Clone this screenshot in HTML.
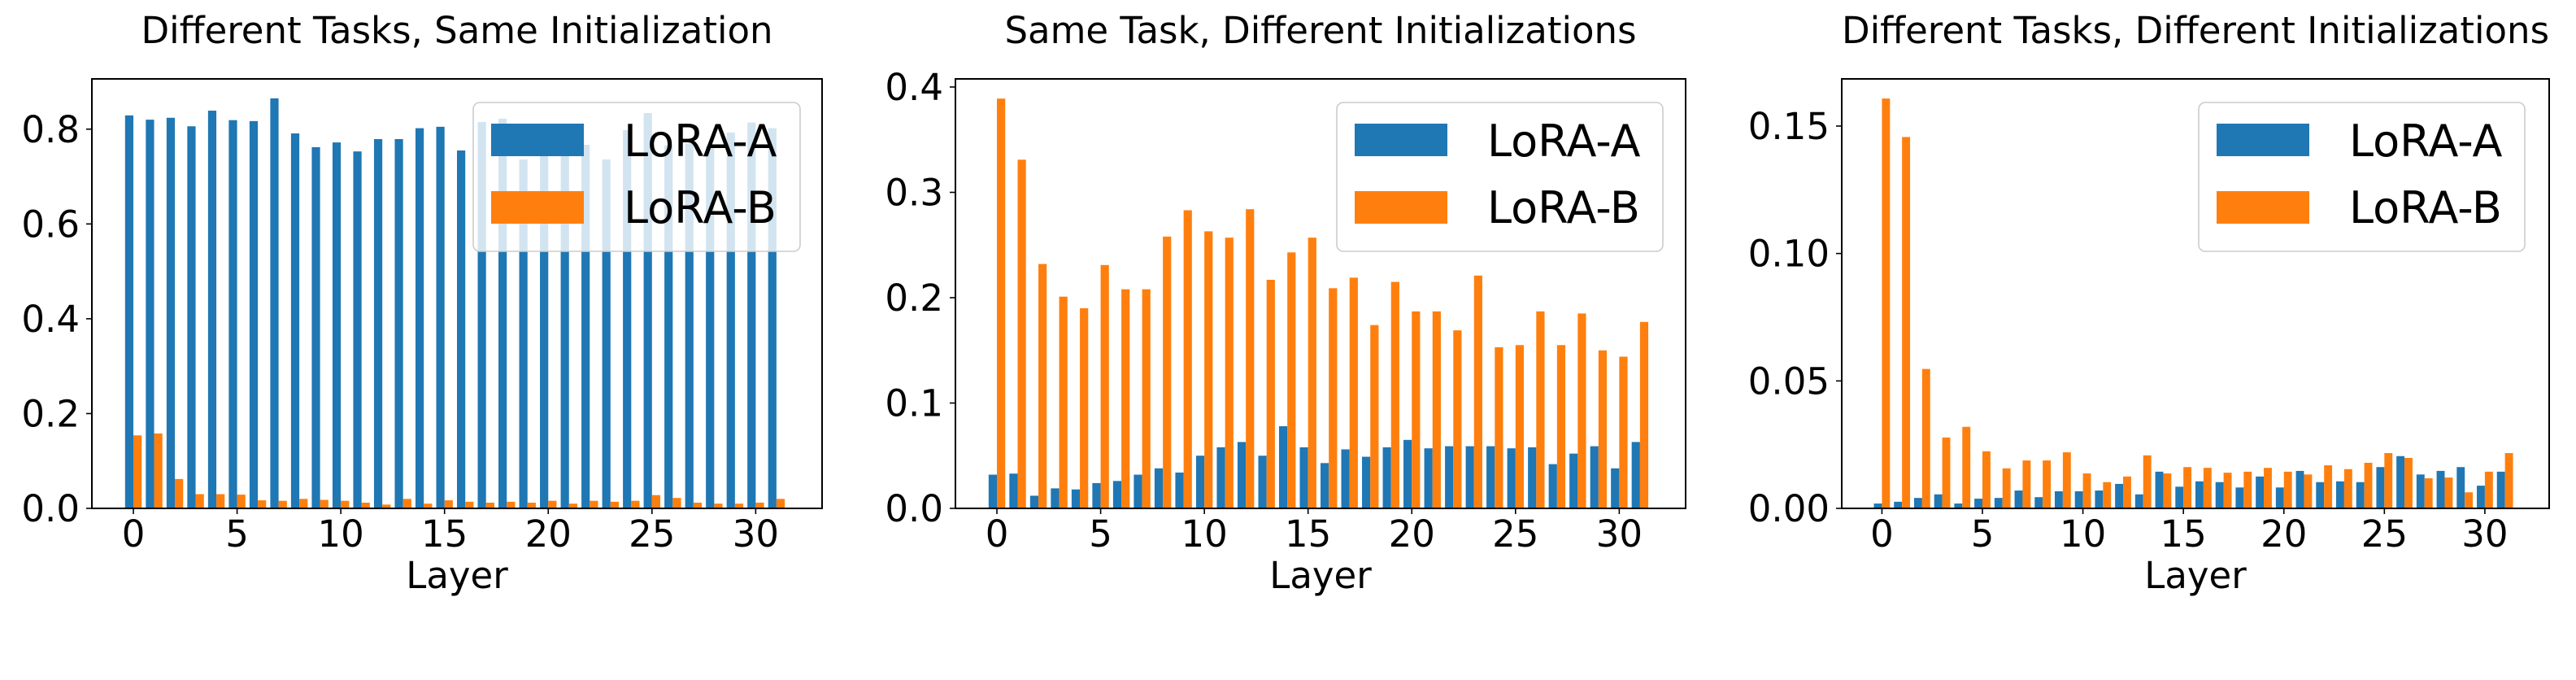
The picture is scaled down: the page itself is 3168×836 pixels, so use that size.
<!DOCTYPE html>
<html><head><meta charset="utf-8"><style>
html,body{margin:0;padding:0;background:#fff;width:3168px;height:836px;overflow:hidden}
svg{display:block}
text{font-family:"DejaVu Sans","Liberation Sans",sans-serif;fill:#000}
</style></head><body>
<svg id="s" width="3168" height="836" viewBox="0 0 3168 836" xmlns="http://www.w3.org/2000/svg"></svg>
<script>
const panels=[
{L:113,R:1011,ymax:0.906,title:"Different Tasks, Same Initialization",ticks:[0,0.2,0.4,0.6,0.8],fmt:v=>v.toFixed(1),
A:[0.829,0.820,0.824,0.806,0.839,0.819,0.817,0.865,0.791,0.762,0.772,0.753,0.779,0.779,0.802,0.805,0.755,0.815,0.822,0.736,0.78,0.79,0.767,0.736,0.798,0.834,0.766,0.77,0.765,0.793,0.814,0.802],
B:[0.154,0.158,0.062,0.030,0.030,0.029,0.017,0.016,0.020,0.018,0.016,0.012,0.008,0.020,0.010,0.017,0.014,0.012,0.014,0.012,0.016,0.010,0.016,0.014,0.016,0.028,0.022,0.012,0.010,0.010,0.012,0.020],leg:[582,984]},
{L:1175,R:2073,ymax:0.4077,title:"Same Task, Different Initializations",ticks:[0,0.1,0.2,0.3,0.4],fmt:v=>v.toFixed(1),
A:[0.032,0.033,0.012,0.019,0.018,0.024,0.026,0.032,0.038,0.034,0.050,0.058,0.063,0.050,0.078,0.058,0.043,0.056,0.049,0.058,0.065,0.057,0.059,0.059,0.059,0.057,0.058,0.042,0.052,0.059,0.038,0.063],
B:[0.389,0.331,0.232,0.201,0.190,0.231,0.208,0.208,0.258,0.283,0.263,0.257,0.284,0.217,0.243,0.257,0.209,0.219,0.174,0.215,0.187,0.187,0.169,0.221,0.153,0.155,0.187,0.155,0.185,0.150,0.144,0.177],leg:[1644,2045]},
{L:2265,R:3135,ymax:0.1685,title:"Different Tasks, Different Initializations",ticks:[0,0.05,0.10,0.15],fmt:v=>v.toFixed(2),
A:[0.0019,0.0026,0.0041,0.0055,0.0019,0.0038,0.0041,0.0070,0.0044,0.0067,0.0067,0.0070,0.0096,0.0055,0.0144,0.0085,0.0106,0.0103,0.0082,0.0125,0.0082,0.0147,0.0103,0.0106,0.0103,0.0162,0.0205,0.0133,0.0147,0.0162,0.0089,0.0144],
B:[0.1608,0.1457,0.0547,0.0278,0.0320,0.0224,0.0157,0.0188,0.0188,0.0220,0.0137,0.0103,0.0125,0.0208,0.0137,0.0162,0.0159,0.0140,0.0144,0.0159,0.0144,0.0133,0.0169,0.0154,0.0179,0.0217,0.0198,0.0118,0.0121,0.0063,0.0144,0.0217],leg:[2704,3105]}
];
const T=97,Bt=625,xmin=-2,xmax=33.2;
let h="";
for(const p of panels){
 const sx=x=>p.L+(x-xmin)/(xmax-xmin)*(p.R-p.L);
 const sy=v=>Bt-v/p.ymax*(Bt-T);
 const cx=(p.L+p.R)/2;
 h+=`<text x="${cx}" y="53" font-size="45" text-anchor="middle">${p.title}</text>`;
 for(let i=0;i<32;i++){
  const a=p.A[i],b=p.B[i];
  h+=`<rect x="${sx(i-0.4)}" y="${sy(a)}" width="${sx(i)-sx(i-0.4)}" height="${Bt-sy(a)}" fill="#1f77b4"/>`;
  h+=`<rect x="${sx(i)}" y="${sy(b)}" width="${sx(i)-sx(i-0.4)}" height="${Bt-sy(b)}" fill="#ff7f0e"/>`;
 }
 h+=`<rect x="${p.L}" y="${T}" width="${p.R-p.L}" height="${Bt-T}" fill="none" stroke="#000" stroke-width="2"/>`;
 for(const t of p.ticks){const y=sy(t);
  h+=`<line x1="${p.L-7}" x2="${p.L}" y1="${y}" y2="${y}" stroke="#000" stroke-width="1.6"/>`;
  h+=`<text x="${p.L-15}" y="${y+16}" font-size="45" text-anchor="end">${p.fmt(t)}</text>`;}
 for(let t=0;t<=30;t+=5){const x=sx(t);
  h+=`<line x1="${x}" x2="${x}" y1="${Bt}" y2="${Bt+7}" stroke="#000" stroke-width="1.6"/>`;
  h+=`<text x="${x}" y="672" font-size="45" text-anchor="middle">${t}</text>`;}
 h+=`<text x="${cx}" y="723" font-size="45" text-anchor="middle">Layer</text>`;
 const [l0,l1]=p.leg;
 h+=`<rect x="${l0}" y="126" width="${l1-l0}" height="183" rx="8" fill="#fff" fill-opacity="0.8" stroke="#ccc" stroke-width="1.6"/>`;
 h+=`<rect x="${l0+22}" y="152" width="114" height="40" fill="#1f77b4"/>`;
 h+=`<rect x="${l0+22}" y="235" width="114" height="40" fill="#ff7f0e"/>`;
 h+=`<text x="${l0+185}" y="192" font-size="54">LoRA-A</text>`;
 h+=`<text x="${l0+185}" y="274" font-size="54">LoRA-B</text>`;
}
document.getElementById("s").innerHTML=h;
</script>
</body></html>
